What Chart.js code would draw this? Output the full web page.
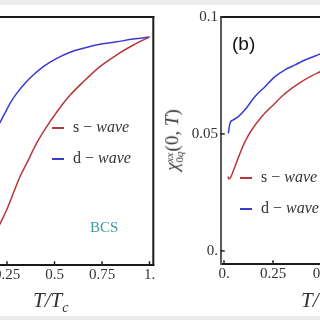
<!DOCTYPE html>
<html>
<head>
<meta charset="utf-8">
<script src="https://cdn.jsdelivr.net/npm/chart.js@4.4.0/dist/chart.umd.min.js"></script>
<style>
    html, body { margin: 0; padding: 0; }
    body { width: 320px; height: 320px; overflow: hidden; position: relative; background: #fff; font-family: "Liberation Serif", serif; color: #333; }
    .strip { position: absolute; left: 0; width: 320px; background: #ececec; }
    #leftBox { position: absolute; left: -100px; top: 0; width: 260px; height: 320px; }
    #rightBox { position: absolute; left: 140px; top: 0; width: 300px; height: 320px; }
    .txt { position: absolute; white-space: nowrap; line-height: 20px; }
    .key { display: inline-block; width: 12px; height: 0; border-top: 2px solid; vertical-align: middle; margin-right: 9px; }
    .lg { font-size: 16px; }
    .axt { font-size: 21px; font-style: italic; }
    .stack { display: inline-flex; flex-direction: column; font-size: 11px; line-height: 10px; vertical-align: middle; font-style: italic; }
</style>
</head>
<body>
<div class="strip" style="top:0;height:5px"></div>
<div class="strip" style="top:316px;height:4px"></div>
<div id="leftBox"><canvas id="leftChart"></canvas></div>
<div id="rightBox"><canvas id="rightChart"></canvas></div>

<!-- panel (a) texts -->
<div class="txt lg" style="left:52px;top:117px"><span class="key" style="color:#b5373a"></span>s − <i>wave</i></div>
<div class="txt lg" style="left:52px;top:148px"><span class="key" style="color:#3a3ad0"></span>d − <i>wave</i></div>
<div class="txt" style="left:90px;top:217px;font-size:15px;color:#3f9b9e">BCS</div>
<div class="txt axt" style="left:33px;top:290px"><i>T</i>/<i>T</i><sub style="font-size:14px">c</sub></div>

<!-- panel (b) texts -->
<div class="txt" style="left:232px;top:34px;font-size:19px;font-family:'Liberation Sans',sans-serif;color:#111">(b)</div>
<div class="txt lg" style="left:240px;top:167px"><span class="key" style="color:#b5373a"></span>s − <i>wave</i></div>
<div class="txt lg" style="left:240px;top:198px"><span class="key" style="color:#3a3ad0"></span>d − <i>wave</i></div>
<div class="txt axt" style="left:301px;top:290px"><i>T</i>/<i>T</i><sub style="font-size:14px">c</sub></div>
<div class="txt" style="left:173px;top:140px;font-size:19px;transform:translate(-50%,-50%) rotate(-90deg)"><i>χ</i><span class="stack"><span>xx</span><span><span style="font-style:normal">0</span>q</span></span>(0, <i>T</i>)</div>

<script>
// Panel (a) : valeurs normalisées (axe vertical hors cadre)
const aBlueT = [0.210, 0.239, 0.266, 0.301, 0.345, 0.388, 0.441, 0.512, 0.582, 0.652, 0.739, 0.827, 0.915, 1.0];
const aBlue  = [0.571, 0.612, 0.652, 0.692, 0.733, 0.766, 0.800, 0.833, 0.858, 0.874, 0.890, 0.900, 0.911, 0.919];
const aRedT  = [0.210, 0.248, 0.283, 0.318, 0.362, 0.406, 0.459, 0.520, 0.582, 0.652, 0.739, 0.827, 0.915, 1.0];
const aRed   = [0.161, 0.222, 0.289, 0.356, 0.423, 0.491, 0.558, 0.625, 0.685, 0.739, 0.800, 0.847, 0.887, 0.919];
const aXTicks = [0, 0.25, 0.5, 0.75, 1];

// Panel (b) : chi_0q^xx(0,T)
const bBlueT = [0.022, 0.031, 0.047, 0.073, 0.107, 0.158, 0.209, 0.260, 0.311, 0.362, 0.413, 0.464, 0.490];
const bBlue  = [0.0503, 0.0547, 0.0560, 0.0574, 0.0603, 0.0660, 0.0702, 0.0745, 0.0774, 0.0795, 0.0816, 0.0833, 0.0842];
const bRedT  = [0.019, 0.026, 0.036, 0.056, 0.082, 0.107, 0.141, 0.192, 0.243, 0.294, 0.345, 0.396, 0.447, 0.490];
const bRed   = [0.0318, 0.0307, 0.0318, 0.0361, 0.0418, 0.0467, 0.0517, 0.0574, 0.0617, 0.0660, 0.0695, 0.0724, 0.0748, 0.0766];
const bXTicks = [0, 0.25, 0.5, 0.75, 1];
const bYTicks = [0, 0.05, 0.1];

const RED = '#b5373a';
const BLUE = '#3a3ad0';

function tickText(v) {
    if (v === 0) return '0.';
    if (v === 1) return '1.';
    return String(v);
}

function points(xs, ys) {
    return xs.map((x, i) => ({x: x, y: ys[i]}));
}

// cadre + petites graduations vers l'intérieur
const framePlugin = {
    id: 'frame',
    afterDraw(chart, args, opts) {
        const {ctx, chartArea: a, scales} = chart;
        ctx.save();
        ctx.lineWidth = 2;
        ctx.lineCap = 'square';
        (opts.sides || []).forEach(s => {
            ctx.strokeStyle = s.color;
            ctx.beginPath();
            if (s.edge === 'top') { ctx.moveTo(a.left, a.top); ctx.lineTo(a.right, a.top); }
            if (s.edge === 'bottom') { ctx.moveTo(a.left, a.bottom); ctx.lineTo(a.right, a.bottom); }
            if (s.edge === 'left') { ctx.moveTo(a.left, a.top); ctx.lineTo(a.left, a.bottom); }
            if (s.edge === 'right') { ctx.moveTo(a.right, a.top); ctx.lineTo(a.right, a.bottom); }
            ctx.stroke();
        });
        ctx.lineWidth = 1.5;
        ctx.strokeStyle = '#222';
        scales.x.ticks.forEach(t => {
            const px = scales.x.getPixelForValue(t.value);
            ctx.beginPath();
            ctx.moveTo(px, a.bottom);
            ctx.lineTo(px, a.bottom - 3);
            ctx.stroke();
        });
        if (scales.y.options.display) {
            scales.y.ticks.forEach(t => {
                const py = scales.y.getPixelForValue(t.value);
                ctx.beginPath();
                ctx.moveTo(a.left, py);
                ctx.lineTo(a.left + 3, py);
                ctx.stroke();
            });
        }
        ctx.restore();
    }
};

const tickFont = {family: 'Liberation Serif', size: 15};

function lineSet(label, data, color) {
    return {
        label: label,
        data: data,
        borderColor: color,
        borderWidth: 1.5,
        pointRadius: 0,
        cubicInterpolationMode: 'monotone',
        fill: false
    };
}

document.addEventListener('DOMContentLoaded', function() {
    new Chart(document.getElementById('leftChart'), {
        type: 'line',
        data: {
            datasets: [
                lineSet('s-wave', points(aRedT, aRed), RED),
                lineSet('d-wave', points(aBlueT, aBlue), BLUE)
            ]
        },
        options: {
            responsive: true,
            maintainAspectRatio: false,
            animation: false,
            layout: {padding: {left: 55.7, right: 6.7, top: 17, bottom: 0}},
            plugins: {
                legend: {display: false},
                tooltip: {enabled: false},
                frame: {sides: [
                    {edge: 'top', color: '#1a1a1a'}, {edge: 'right', color: '#1a1a1a'},
                    {edge: 'bottom', color: '#1a1a1a'}, {edge: 'left', color: '#1a1a1a'}
                ]}
            },
            scales: {
                x: {
                    type: 'linear', min: -0.02, max: 1.02,
                    grid: {display: false, drawTicks: false},
                    border: {display: false},
                    afterBuildTicks: s => { s.ticks = aXTicks.map(v => ({value: v})); },
                    afterFit: s => { s.height = 55; },
                    ticks: {padding: 1, color: '#333', font: tickFont, maxRotation: 0, callback: tickText}
                },
                y: {type: 'linear', min: 0, max: 1, display: false}
            }
        },
        plugins: [framePlugin]
    });

    new Chart(document.getElementById('rightChart'), {
        type: 'line',
        data: {
            datasets: [
                lineSet('s-wave', points(bRedT, bRed), RED),
                lineSet('d-wave', points(bBlueT, bBlue), BLUE)
            ]
        },
        options: {
            responsive: true,
            maintainAspectRatio: false,
            animation: false,
            layout: {padding: {left: 0, right: 16, top: 17, bottom: 0}},
            plugins: {
                legend: {display: false},
                tooltip: {enabled: false},
                frame: {sides: [
                    {edge: 'top', color: '#1a1a1a'},
                    {edge: 'bottom', color: '#1a1a1a'},
                    {edge: 'left', color: '#5a5a5a'}
                ]}
            },
            scales: {
                x: {
                    type: 'linear', min: -0.0153, max: 1.02,
                    grid: {display: false, drawTicks: false},
                    border: {display: false},
                    afterBuildTicks: s => { s.ticks = bXTicks.map(v => ({value: v})); },
                    afterFit: s => { s.height = 56; },
                    ticks: {padding: 1, color: '#333', font: tickFont, maxRotation: 0, callback: tickText}
                },
                y: {
                    type: 'linear', min: -0.0056, max: 0.1,
                    grid: {display: false, drawTicks: false},
                    border: {display: false},
                    afterBuildTicks: s => { s.ticks = bYTicks.map(v => ({value: v})); },
                    afterFit: s => { s.width = 81; },
                    ticks: {padding: 3, color: '#333', font: tickFont, callback: tickText}
                }
            }
        },
        plugins: [framePlugin]
    });
});
</script>
</body>
</html>
